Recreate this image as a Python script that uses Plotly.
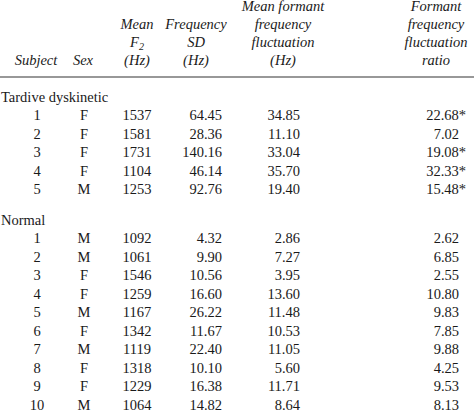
import plotly.graph_objects as go

# data
groups = ['Tardive dyskinetic', 'Normal']
td_subject = ['1', '2', '3', '4', '5']
td_sex = ['F', 'F', 'F', 'F', 'M']
td_f2 = ['1537', '1581', '1731', '1104', '1253']
td_sd = ['64.45', '28.36', '140.16', '46.14', '92.76']
td_fluct = ['34.85', '11.10', '33.04', '35.70', '19.40']
td_ratio = ['22.68*', '7.02', '19.08*', '32.33*', '15.48*']

n_subject = ['1', '2', '3', '4', '5', '6', '7', '8', '9', '10']
n_sex = ['M', 'M', 'F', 'F', 'M', 'F', 'M', 'F', 'F', 'M']
n_f2 = ['1092', '1061', '1546', '1259', '1167', '1342', '1119', '1318', '1229', '1064']
n_sd = ['4.32', '9.90', '10.56', '16.60', '26.22', '11.67', '22.40', '10.10', '16.38', '14.82']
n_fluct = ['2.86', '7.27', '3.95', '13.60', '11.48', '10.53', '11.05', '5.60', '11.71', '8.64']
n_ratio = ['2.62', '6.85', '2.55', '10.80', '9.83', '7.85', '9.88', '4.25', '9.53', '8.13']

header_cols = [
    (36, ['<i>Subject</i>']),
    (83, ['<i>Sex</i>']),
    (137, ['<i>Mean</i>', '<i>F<sub>2</sub></i>', '<i>(Hz)</i>']),
    (196, ['<i>Frequency</i>', '<i>SD</i>', '<i>(Hz)</i>']),
    (283, ['<i>Mean formant</i>', '<i>frequency</i>', '<i>fluctuation</i>', '<i>(Hz)</i>']),
    (436, ['<i>Formant</i>', '<i>frequency</i>', '<i>fluctuation</i>', '<i>ratio</i>']),
]

FONT = dict(family='Liberation Serif, DejaVu Serif, serif', size=14.5, color='#1a1a1a')
header_y = [7, 25, 43, 61]
row_step = 18.5

fig = go.Figure()

def text_trace(xs, ys, texts, pos):
    fig.add_trace(go.Scatter(x=xs, y=ys, text=texts, mode='text',
                             textposition=pos, textfont=FONT,
                             hoverinfo='skip', showlegend=False))

for hx, lines in header_cols:
    ys = header_y[-len(lines):]
    text_trace([hx] * len(lines), ys, lines, 'middle center')

fig.add_shape(type='line', x0=0, x1=474, y0=77, y1=77,
              line=dict(color='#333', width=1.2))

def block(y0, subj, sex, f2, sd, fl, ratio):
    ys = [y0 + i * row_step for i in range(len(subj))]
    text_trace([37] * len(ys), ys, subj, 'middle center')
    text_trace([84] * len(ys), ys, sex, 'middle center')
    text_trace([137] * len(ys), ys, f2, 'middle center')
    text_trace([222] * len(ys), ys, sd, 'middle left')
    text_trace([300] * len(ys), ys, fl, 'middle left')
    rx = [466 if r.endswith('*') else 459 for r in ratio]
    text_trace(rx, ys, ratio, 'middle left')

text_trace([1], [98], [groups[0]], 'middle right')
block(116.5, td_subject, td_sex, td_f2, td_sd, td_fluct, td_ratio)
text_trace([1], [221], [groups[1]], 'middle right')
block(239.5, n_subject, n_sex, n_f2, n_sd, n_fluct, n_ratio)

fig.update_layout(
    width=474, height=414,
    margin=dict(l=0, r=0, t=0, b=0),
    paper_bgcolor='white', plot_bgcolor='white',
    xaxis=dict(range=[0, 474], visible=False, fixedrange=True),
    yaxis=dict(range=[414, 0], visible=False, fixedrange=True),
)

fig.write_html("out.html", config=dict(displayModeBar=False),
               post_script="document.body.style.margin='0';")
